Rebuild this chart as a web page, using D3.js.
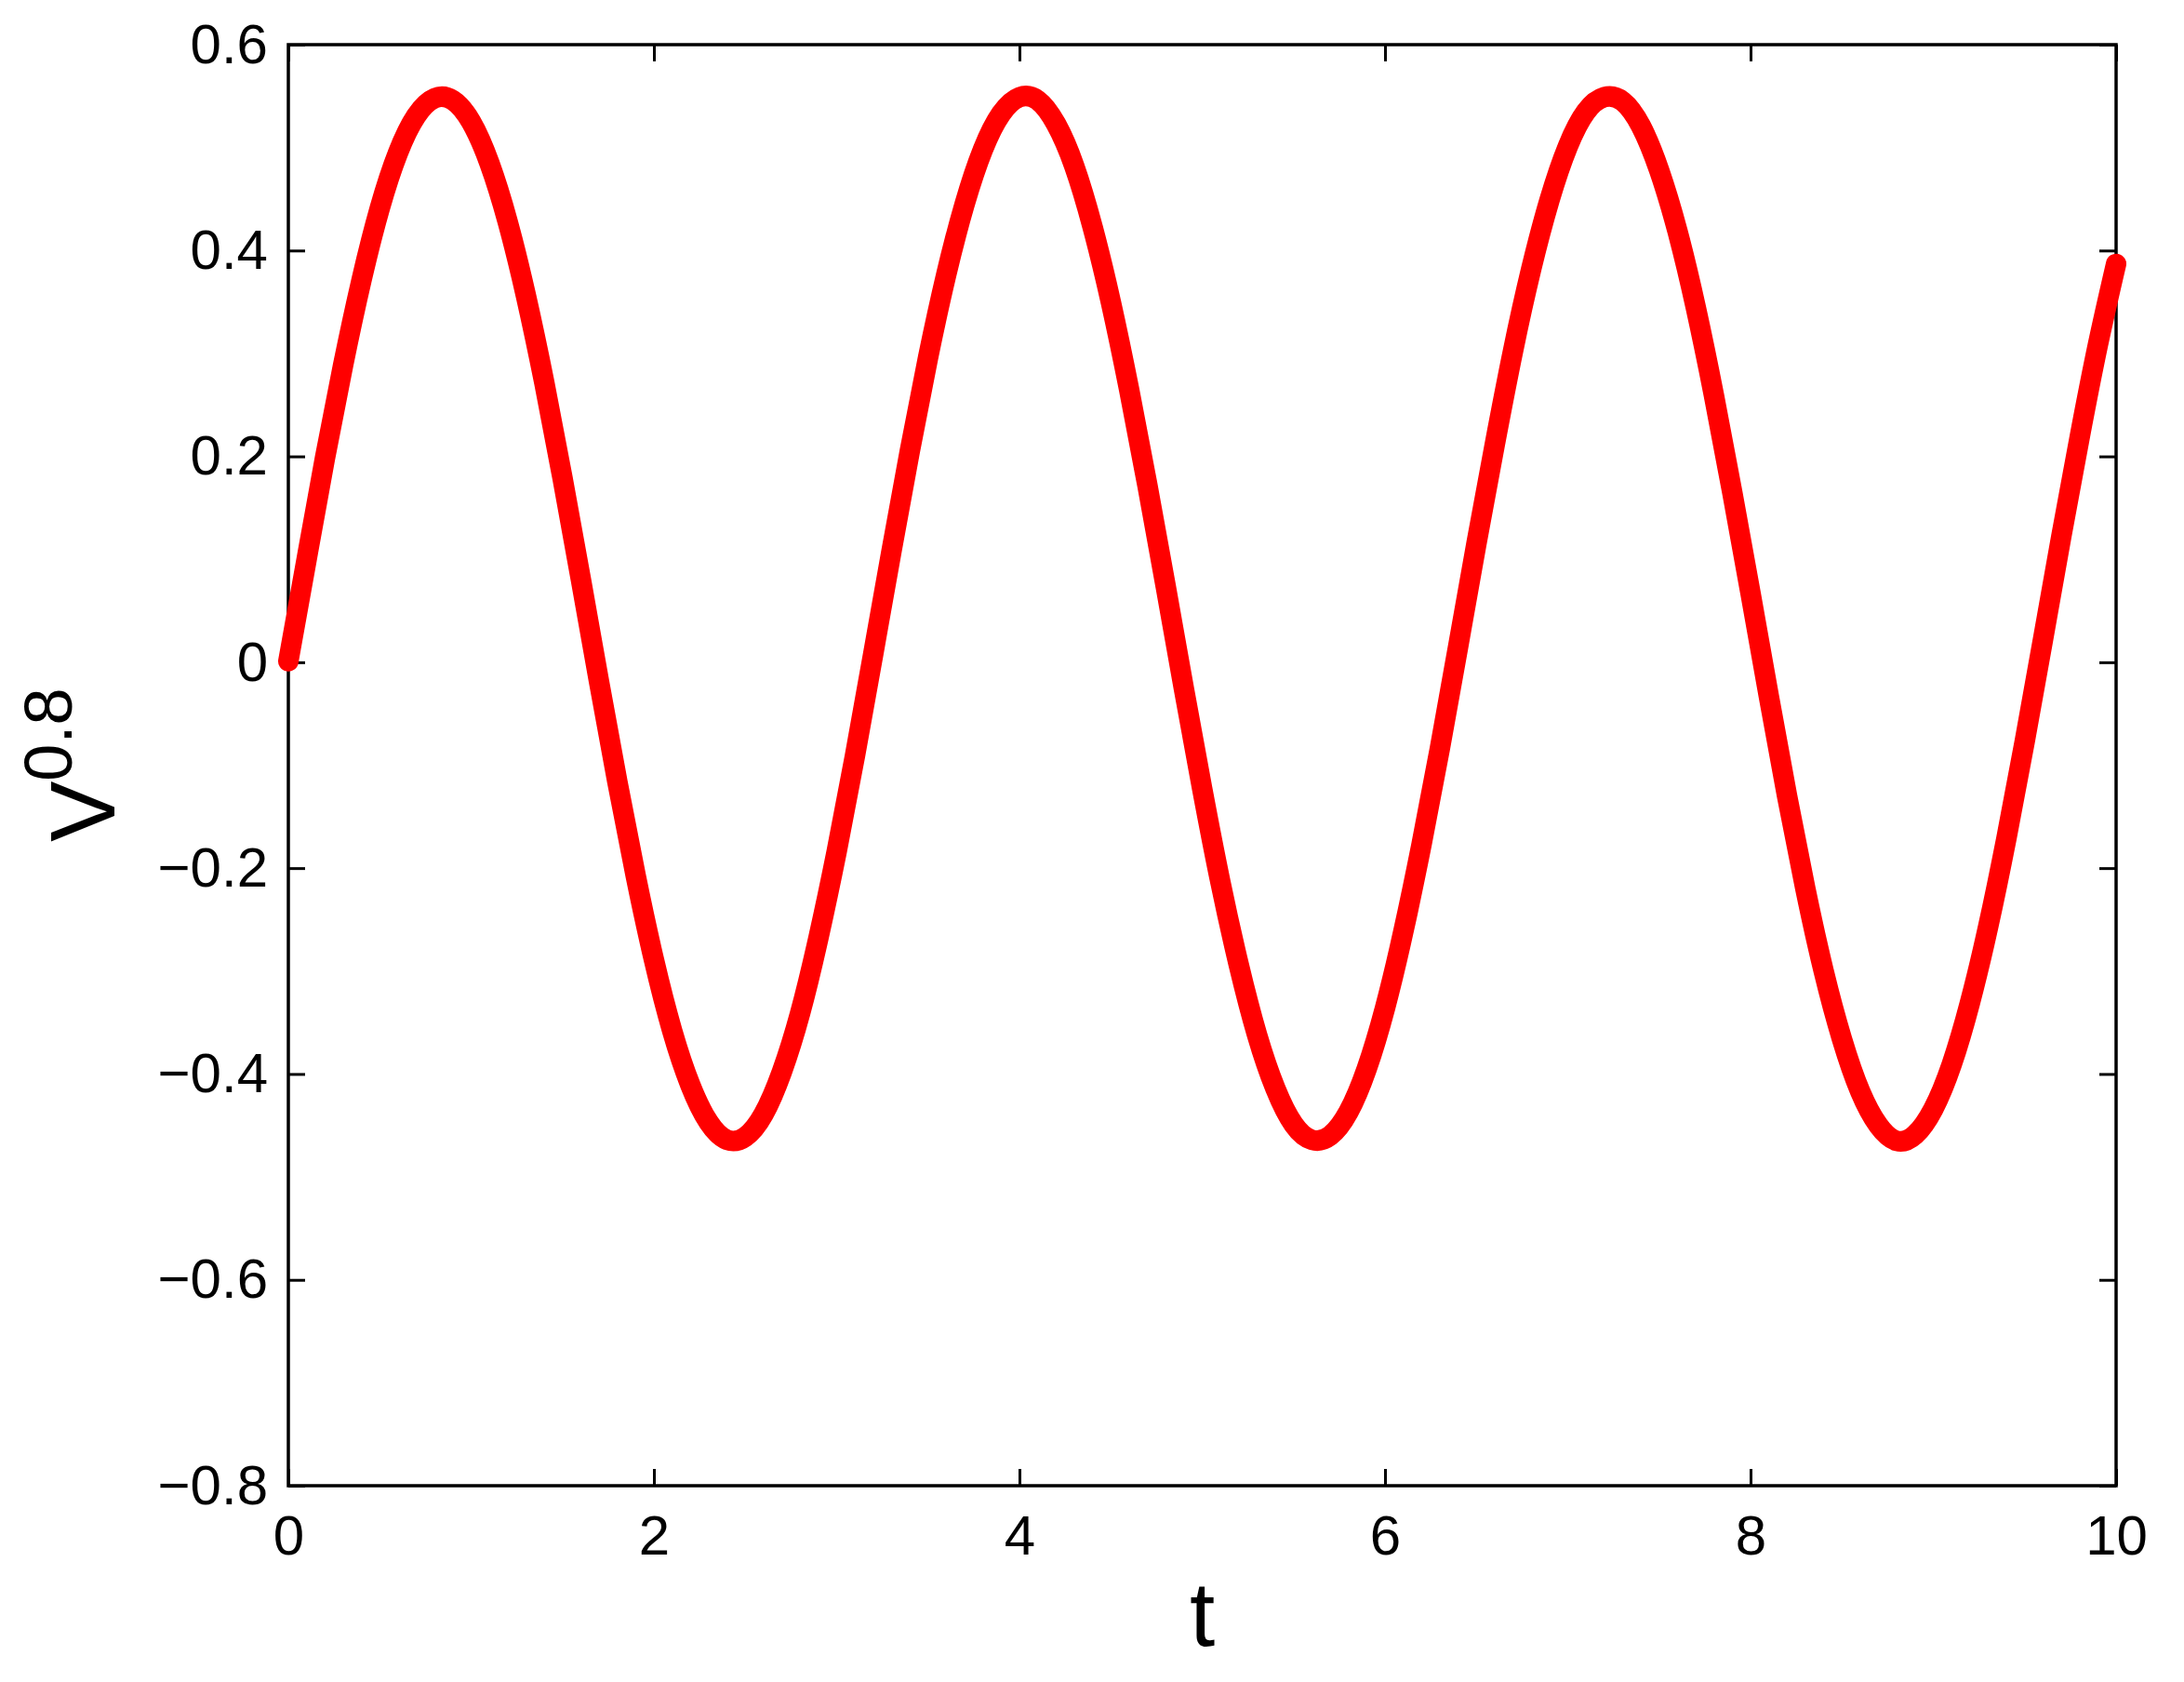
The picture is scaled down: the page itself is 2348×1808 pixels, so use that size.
<!DOCTYPE html>
<html>
<head>
<meta charset="utf-8">
<script src="https://cdn.jsdelivr.net/npm/d3@7"></script>
<style>
  html, body { margin: 0; padding: 0; background: #ffffff; }
  svg { display: block; }
  text { font-family: "Liberation Sans", Arial, Helvetica, sans-serif; fill: #000; }
</style>
</head>
<body>
<svg id="chart" width="2348" height="1808"></svg>
<script>
// ---- data ----
const tValues = [
  0.0,0.1,0.2,0.3,0.4,0.5,0.6,0.7,0.8,0.9,
  1.0,1.1,1.2,1.3,1.4,1.5,1.6,1.7,1.8,1.9,
  2.0,2.1,2.2,2.3,2.4,2.5,2.6,2.7,2.8,2.9,
  3.0,3.1,3.2,3.3,3.4,3.5,3.6,3.7,3.8,3.9,
  4.0,4.1,4.2,4.3,4.4,4.5,4.6,4.7,4.8,4.9,
  5.0,5.1,5.2,5.3,5.4,5.5,5.6,5.7,5.8,5.9,
  6.0,6.1,6.2,6.3,6.4,6.5,6.6,6.7,6.8,6.9,
  7.0,7.1,7.2,7.3,7.4,7.5,7.6,7.7,7.8,7.9,
  8.0,8.1,8.2,8.3,8.4,8.5,8.6,8.7,8.8,8.9,
  9.0,9.1,9.2,9.3,9.4,9.5,9.6,9.7,9.8,9.9,
  10.0
];
const vValues = [
  0.001, 0.100, 0.198, 0.289, 0.371, 0.441, 0.495, 0.531, 0.548, 0.546,
  0.525, 0.485, 0.428, 0.356, 0.272, 0.179, 0.081,-0.019,-0.116,-0.207,
 -0.289,-0.358,-0.411,-0.447,-0.464,-0.461,-0.439,-0.398,-0.341,-0.268,
 -0.184,-0.091, 0.008, 0.108, 0.205, 0.296, 0.377, 0.445, 0.498, 0.533,
  0.549, 0.546, 0.523, 0.482, 0.423, 0.350, 0.265, 0.172, 0.074,-0.026,
 -0.123,-0.214,-0.294,-0.362,-0.414,-0.449,-0.464,-0.460,-0.437,-0.395,
 -0.336,-0.262,-0.177,-0.084, 0.015, 0.115, 0.211, 0.302, 0.382, 0.449,
  0.501, 0.535, 0.549, 0.545, 0.521, 0.478, 0.419, 0.345, 0.259, 0.165,
  0.067,-0.033,-0.130,-0.220,-0.300,-0.366,-0.417,-0.450,-0.465,-0.459,
 -0.434,-0.391,-0.331,-0.257,-0.171,-0.077, 0.022, 0.122, 0.218, 0.308,
  0.387
];
const xTicks = [0, 2, 4, 6, 8, 10];
const xTickLabels = ["0", "2", "4", "6", "8", "10"];
const yTicks = [-0.8, -0.6, -0.4, -0.2, 0, 0.2, 0.4, 0.6];
const yTickLabels = ["\u22120.8", "\u22120.6", "\u22120.4", "\u22120.2", "0", "0.2", "0.4", "0.6"];
const xDomain = [0, 10];
const yDomain = [-0.8, 0.6];
const xLabel = "t";
const yLabelMain = "V";
const yLabelSup = "0.8";

// ---- layout ----
const plot = { left: 310, right: 2275, top: 48, bottom: 1597 };
const tickLen = 18;
const svg = d3.select("#chart");

const x = d3.scaleLinear().domain(xDomain).range([plot.left, plot.right]);
const y = d3.scaleLinear().domain(yDomain).range([plot.bottom, plot.top]);

const data = tValues.map((t, i) => ({ t: t, v: vValues[i] }));

// axes
const fmtX = d => xTickLabels[xTicks.indexOf(d)];
const fmtY = d => yTickLabels[yTicks.findIndex(v => Math.abs(v - d) < 1e-9)];

function styleAxis(g, showText) {
  g.select(".domain").remove();
  g.selectAll(".tick line").attr("stroke", "#000").attr("stroke-width", 3);
  g.selectAll(".tick text")
    .style("font-family", '"Liberation Sans", Arial, sans-serif')
    .style("font-size", "60px")
    .attr("fill", "#000");
  if (!showText) g.selectAll(".tick text").remove();
}

svg.append("g")
  .attr("transform", `translate(0,${plot.bottom})`)
  .call(d3.axisBottom(x).tickValues(xTicks).tickFormat(fmtX)
        .tickSizeInner(-tickLen).tickSizeOuter(0).tickPadding(31))
  .call(g => styleAxis(g, true));

svg.append("g")
  .attr("transform", `translate(0,${plot.top})`)
  .call(d3.axisTop(x).tickValues(xTicks).tickFormat(fmtX)
        .tickSizeInner(-tickLen).tickSizeOuter(0))
  .call(g => styleAxis(g, false));

svg.append("g")
  .attr("transform", `translate(${plot.left},0)`)
  .call(d3.axisLeft(y).tickValues(yTicks).tickFormat(fmtY)
        .tickSizeInner(-tickLen).tickSizeOuter(0).tickPadding(22))
  .call(g => styleAxis(g, true));

svg.append("g")
  .attr("transform", `translate(${plot.right},0)`)
  .call(d3.axisRight(y).tickValues(yTicks).tickFormat(fmtY)
        .tickSizeInner(-tickLen).tickSizeOuter(0))
  .call(g => styleAxis(g, false));

// box
svg.append("rect")
  .attr("x", plot.left).attr("y", plot.top)
  .attr("width", plot.right - plot.left).attr("height", plot.bottom - plot.top)
  .attr("fill", "none").attr("stroke", "#000").attr("stroke-width", 3.5);

// curve
const line = d3.line().x(d => x(d.t)).y(d => y(d.v)).curve(d3.curveNatural);
svg.append("path")
  .datum(data)
  .attr("d", line)
  .attr("fill", "none")
  .attr("stroke", "#ff0000")
  .attr("stroke-width", 22)
  .attr("stroke-linecap", "round")
  .attr("stroke-linejoin", "round");

// axis labels
svg.append("text")
  .attr("x", (plot.left + plot.right) / 2)
  .attr("y", 1769)
  .attr("text-anchor", "middle")
  .style("font-size", "98px")
  .text(xLabel);

const yl = svg.append("text")
  .attr("transform", "translate(123,905) rotate(-90)")
  .attr("text-anchor", "start")
  .style("font-size", "98px");
yl.append("tspan").text(yLabelMain);
yl.append("tspan").attr("dy", -46).style("font-size", "72px").text(yLabelSup);
</script>
</body>
</html>
